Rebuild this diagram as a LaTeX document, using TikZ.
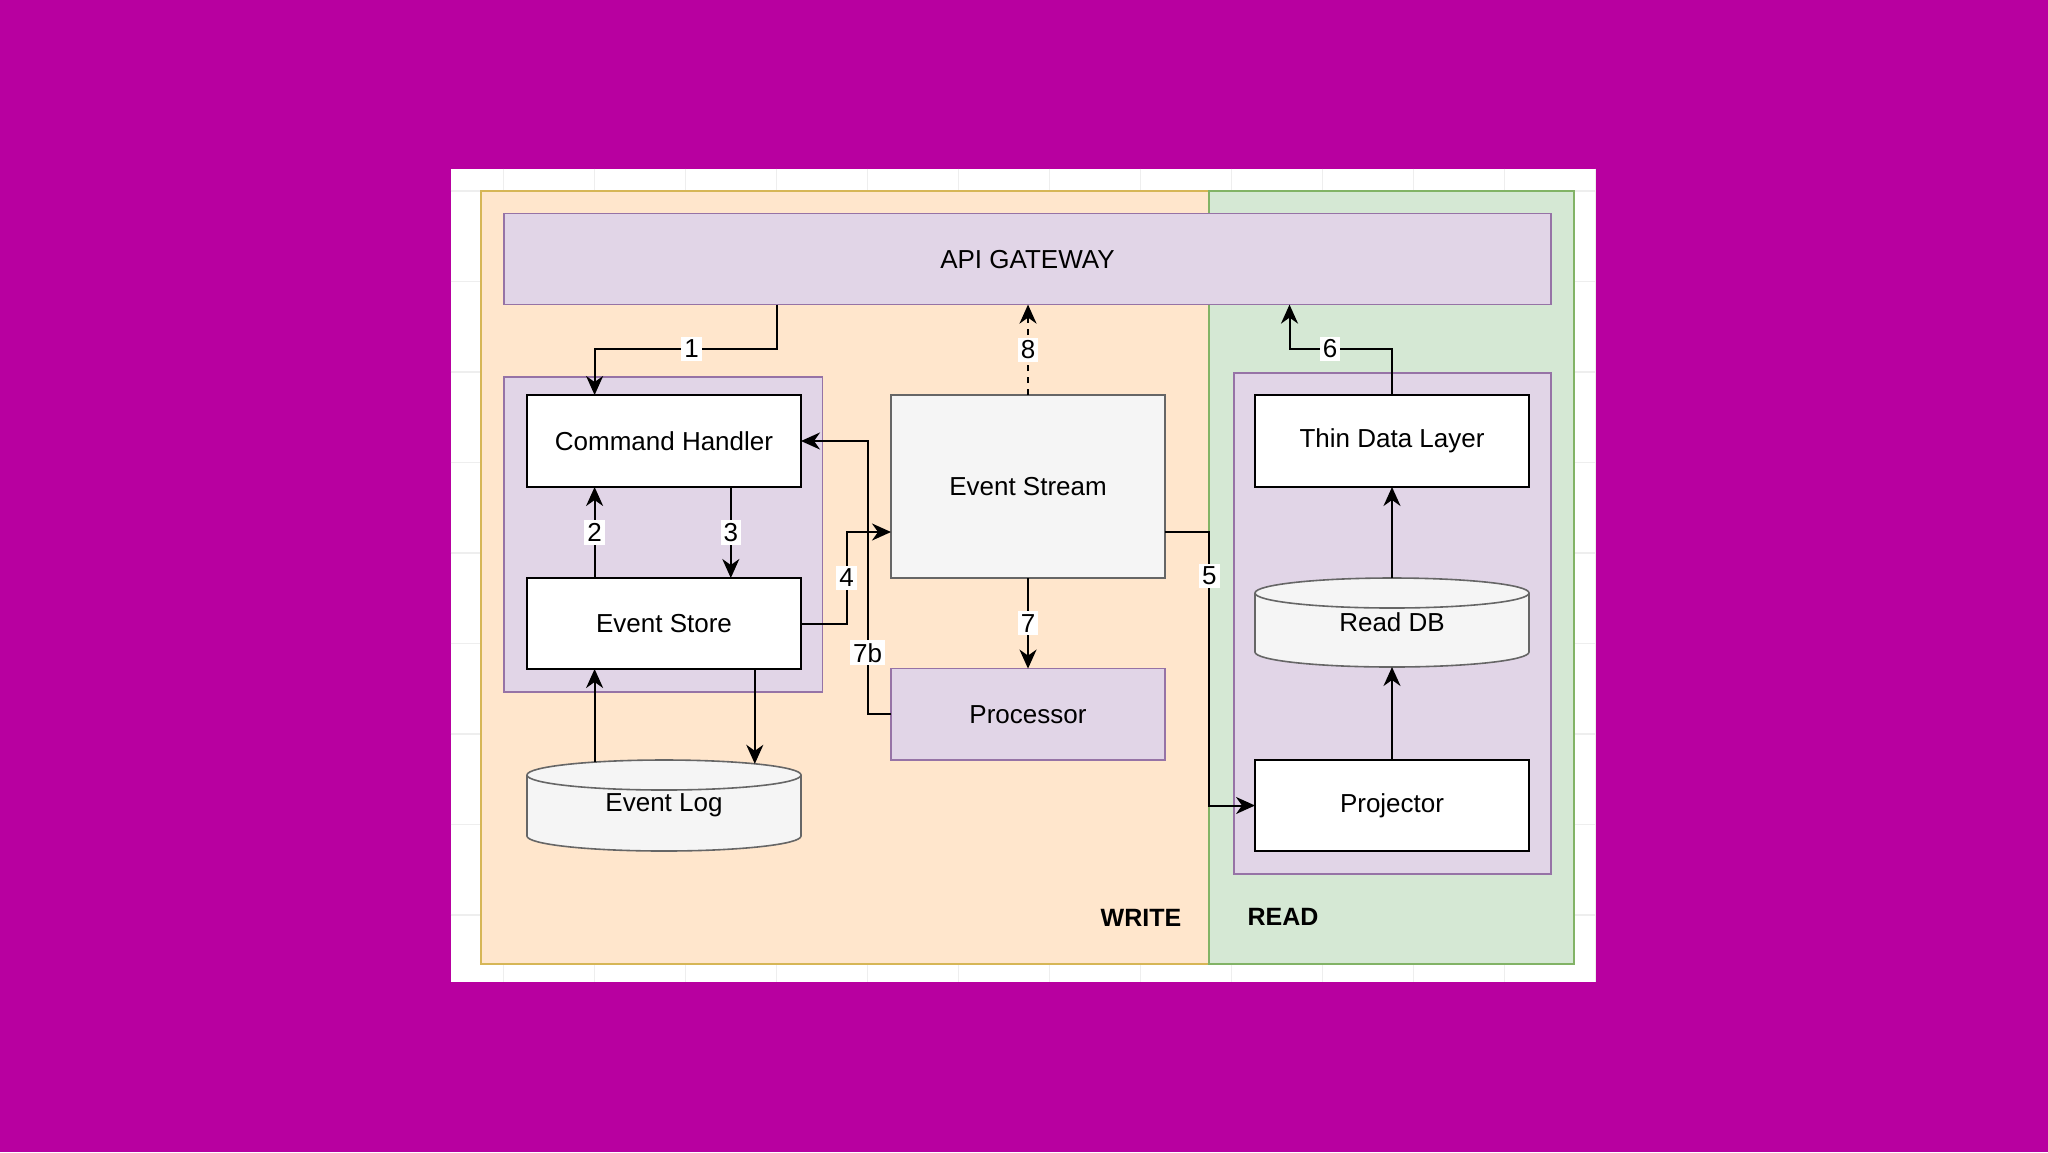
\documentclass[tikz,border=0pt]{standalone}
\usepackage{fontspec}
\setmainfont{Liberation Sans}
\usetikzlibrary{arrows.meta,calc}
\definecolor{bgmag}{HTML}{B800A0}
\definecolor{wrfill}{HTML}{FFE6CC}
\definecolor{wrline}{HTML}{D6B656}
\definecolor{rdfill}{HTML}{D5E8D4}
\definecolor{rdline}{HTML}{82B366}
\definecolor{pufill}{HTML}{E1D5E7}
\definecolor{puline}{HTML}{9673A6}
\definecolor{gyfill}{HTML}{F5F5F5}
\definecolor{gyline}{HTML}{666666}
\definecolor{gridc}{HTML}{EEEEEE}
\begin{document}
\begin{tikzpicture}[x=0.5pt,y=-0.5pt,
  every node/.style={font=\fontsize{13}{15}\selectfont, outer sep=0pt, inner sep=0pt},
  wbox/.style={draw=black, line width=1.3pt, fill=white, minimum width=137pt, minimum height=46pt},
  pbox/.style={draw=puline, line width=0.8pt, fill=pufill},
  gbox/.style={draw=gyline, line width=0.8pt, fill=gyfill},
  cylst/.style={draw=gyline, line width=0.8pt, fill=gyfill},
  arr/.style={-{Stealth[length=9.5pt,width=8.5pt,inset=3pt]}, line width=1pt, draw=black},
  num/.style={fill=white, inner sep=1.5pt},
  regtxt/.style={font=\fontsize{12.5}{14}\selectfont\bfseries}]
\useasboundingbox (0,0) rectangle (2048,1152);
\fill[bgmag] (0,0) rectangle (2048,1152);
\fill[white] (450.6,168.5) rectangle (1596,982.2);
\begin{scope}
  \clip (450.6,168.5) rectangle (1596,982.2);
  \foreach \gx in {503.8,594.8,...,1596} \draw[gridc, line width=0.6pt] (\gx,168.5) -- (\gx,982.2);
  \foreach \gy in {190.9,281.4,...,982} \draw[gridc, line width=0.6pt] (450.6,\gy) -- (1596,\gy);
\end{scope}
% regions
\draw[fill=wrfill, draw=wrline, line width=1pt] (480.6,190.7) rectangle (1209.4,963.9);
\draw[fill=rdfill, draw=rdline, line width=1pt] (1209.4,190.7) rectangle (1573.7,963.9);
\node[regtxt] (wlab) at (1141,918) {WRITE};
\node[regtxt] (rlab) at (1283,917) {READ};
% api gateway
\node[pbox, minimum width=523.6pt, minimum height=45.5pt] (api) at (1027.4,259.1) {API GATEWAY};
% groups
\node[pbox, minimum width=159.4pt, minimum height=157.5pt] (lgrp) at (663.2,534.5) {};
\node[pbox, minimum width=158.5pt, minimum height=250.5pt] (rgrp) at (1392.5,623.5) {};
% boxes
\node[wbox] (cmd) at (664,441) {Command Handler};
\node[wbox, minimum height=45.5pt] (store) at (664,623.5) {Event Store};
\node[gbox, minimum width=137pt, minimum height=91.5pt] (stream) at (1028,486.5) {Event Stream};
\node[pbox, minimum width=137pt, minimum height=45.7pt] (proc) at (1028,714.3) {Processor};
\node[wbox] (tdl) at (1392,441) {Thin Data Layer};
\node[wbox, minimum height=45.5pt] (proj) at (1392,805.5) {Projector};
% cylinders
\filldraw[cylst] (527,775) -- (527,836) arc[start angle=180,end angle=360,x radius=68.5pt,y radius=7.5pt] -- (801,775) arc[start angle=0,end angle=180,x radius=68.5pt,y radius=7.5pt] -- cycle;
\draw[cylst, fill=none] (527,775) arc[start angle=180,end angle=360,x radius=68.5pt,y radius=7.5pt];
\node (elog) at (664,805) {Event Log};
\filldraw[cylst] (1255,593) -- (1255,652) arc[start angle=180,end angle=360,x radius=68.5pt,y radius=7.5pt] -- (1529,593) arc[start angle=0,end angle=180,x radius=68.5pt,y radius=7.5pt] -- cycle;
\draw[cylst, fill=none] (1255,593) arc[start angle=180,end angle=360,x radius=68.5pt,y radius=7.5pt];
\node (rdb) at (1392,622.5) {Read DB};
% helper coordinates
\coordinate (cA) at (594.6,0);
\coordinate (cB) at (730.8,0);
\coordinate (cC) at (754.8,0);
\coordinate (k1) at (776.7,0);
\coordinate (k4) at (846.6,0);
\coordinate (k7b) at (867.6,0);
\coordinate (k5) at (1209.4,0);
\coordinate (k6) at (1289.5,0);
\coordinate (r1) at (0,349);
\coordinate (r4) at (0,532);
\coordinate (elogA) at (594.6,762.1);
\coordinate (elogC) at (754.8,763.8);
\coordinate (rdbtop) at (1392,578);
\coordinate (rdbbot) at (1392,667);
% connectors
\draw[arr] (api.south -| k1) -- (k1 |- r1) -- (cA |- r1) -- (cmd.north -| cA);
\node[num] (n1) at (691.5,349) {1};
\draw[arr] (store.north -| cA) -- node[num] (n2) {2} (cmd.south -| cA);
\draw[arr] (cmd.south -| cB) -- node[num] (n3) {3} (store.north -| cB);
\draw[arr] (store.east) -- (store.east -| k4) -- node[num] (n4) {4} (k4 |- r4) -- (stream.west |- r4);
\draw[arr] (proc.west) -- (proc.west -| k7b) -- (k7b |- cmd.east) -- (cmd.east);
\node[num] (n7b) at (867.6,652.7) {7b};
\draw[arr] (stream.east |- r4) -- (k5 |- r4) -- (k5 |- proj.west) -- (proj.west);
\node[num] (n5) at (1209.4,576) {5};
\draw[arr] (tdl.north) -- (tdl.north |- r1) -- (k6 |- r1) -- (api.south -| k6);
\node[num] (n6) at (1330,349) {6};
\draw[arr] (stream.south) -- node[num] (n7) {7} (proc.north);
\draw[arr, dash pattern=on 3pt off 3pt] (stream.north) -- node[num] (n8) {8} (api.south -| stream.north);
\draw[arr] (elogA) -- (store.south -| cA);
\draw[arr] (store.south -| cC) -- (elogC);
\draw[arr] (proj.north) -- (rdbbot);
\draw[arr] (rdbtop) -- (tdl.south);
\end{tikzpicture}
\end{document}
